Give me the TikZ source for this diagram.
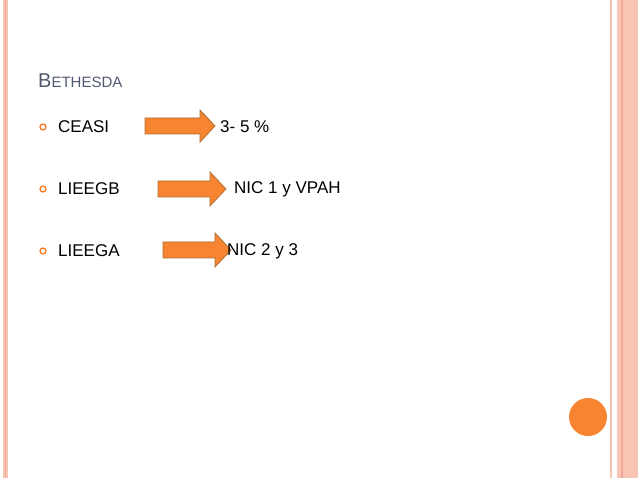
\documentclass[tikz,border=0pt]{standalone}
\usepackage{fontspec}
\setmainfont{Liberation Sans}
\begin{document}
\begin{tikzpicture}[x=1pt,y=-1pt,
  arr/.style={draw=orange!60!black!80,fill={rgb,255:red,247;green,132;blue,49},line width=0.8pt},
  txt/.style={anchor=west,inner sep=0pt,font=\fontsize{17}{17}\selectfont},
  bul/.style={circle,draw={rgb,255:red,240;green,120;blue,40},line width=1.3pt,minimum size=6pt,inner sep=0pt}]
\definecolor{pk}{RGB}{248,196,180}
\definecolor{pkd}{RGB}{238,170,150}
\path[use as bounding box] (0,0) rectangle (638,478);
\fill[pk] (3,0) rectangle (8,478);
\fill[pkd] (5,0) rectangle (6,478);
\fill[pk] (610,0) rectangle (612,478);
\fill[pk] (617,0) rectangle (638,478);
\fill[pkd] (621,0) rectangle (623,478);
\node[circle,fill={rgb,255:red,247;green,132;blue,49},minimum size=38pt,inner sep=0pt] (dot) at (588,417) {};
\node[anchor=base west,inner sep=0pt,text={rgb,255:red,80;green,90;blue,110}] (title) at (38,88)
  {\fontsize{20}{20}\selectfont B\fontsize{15}{15}\selectfont ETHESDA};
\node[bul] (b1) at (43,127) {}; \node[txt] (t1) at (58,127) {CEASI};
\node[bul] (b2) at (43,189) {}; \node[txt] (t2) at (58,189) {LIEEGB};
\node[bul] (b3) at (43,251) {}; \node[txt] (t3) at (58,251) {LIEEGA};
\draw[arr] (145,118)--(200,118)--(200,110)--(215,126)--(200,142)--(200,134)--(145,134)--cycle;
\draw[arr] (158,181)--(210,181)--(210,172)--(226,189)--(210,206)--(210,197)--(158,197)--cycle;
\draw[arr] (163,242)--(215,242)--(215,233)--(231,250)--(215,267)--(215,258)--(163,258)--cycle;
\node[txt] (r1) at (220,127) {3- 5 \%};
\node[txt] (r2) at (234,189) {NIC 1 y VPAH};
\node[txt] (r3) at (227,251) {NIC 2 y 3};
\end{tikzpicture}
\end{document}
